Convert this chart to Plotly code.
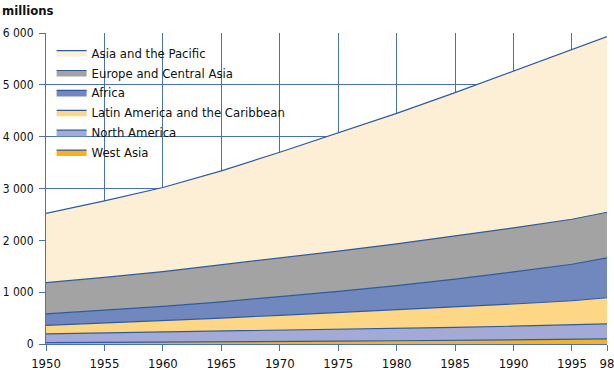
import plotly.graph_objects as go

years = [1950, 1955, 1960, 1965, 1970, 1975, 1980, 1985, 1990, 1995, 1998]

west_asia = [25, 29, 34, 40, 47, 55, 63, 72, 82, 91, 97]
north_america = [172, 184, 196, 208, 220, 230, 240, 250, 262, 275, 290]
latin_america = [163, 190, 220, 253, 287, 322, 355, 390, 428, 468, 505]
africa = [221, 246, 276, 313, 358, 410, 470, 540, 620, 705, 770]
europe_central_asia = [605, 635, 672, 712, 748, 775, 805, 830, 850, 868, 880]
asia_pacific = [1334, 1476, 1622, 1814, 2040, 2278, 2517, 2768, 3028, 3273, 3388]

series_names = ["West Asia", "North America", "Latin America and the Caribbean",
                "Africa", "Europe and Central Asia", "Asia and the Pacific"]
series_values = [west_asia, north_america, latin_america, africa,
                 europe_central_asia, asia_pacific]
series_colors = ["#f5b120", "#a4aad6", "#fdd786", "#7088be", "#a3a3a3", "#fdefd6"]

x_tickvals = [1950, 1955, 1960, 1965, 1970, 1975, 1980, 1985, 1990, 1995, 1998]
x_ticktext = ["1950", "1955", "1960", "1965", "1970", "1975", "1980", "1985",
              "1990", "1995", "98"]
y_tickvals = [0, 1000, 2000, 3000, 4000, 5000, 6000]
y_ticktext = ["0", "1 000", "2 000", "3 000", "4 000", "5 000", "6 000"]

LINE = "#2f5b9c"
GRID = "#4a70b0"
FONT = "Liberation Sans Narrow, DejaVu Sans Condensed, Arial Narrow, sans-serif"

fig = go.Figure()
for name, vals, col in zip(series_names, series_values, series_colors):
    fig.add_trace(go.Scatter(
        x=years, y=vals, name=name, mode="lines", stackgroup="one",
        line=dict(color=LINE, width=1.2), fillcolor=col,
    ))

fig.update_layout(
    width=614, height=370,
    margin=dict(l=46, r=7, t=33, b=26, autoexpand=False),
    paper_bgcolor="white", plot_bgcolor="white",
    font=dict(family=FONT, size=13, color="#111111"),
    showlegend=True,
    legend=dict(traceorder="reversed", x=0.01, y=0.985, xanchor="left", yanchor="top",
                bgcolor="rgba(0,0,0,0)", font=dict(size=13), tracegroupgap=0),
    xaxis=dict(range=[1950, 1998], tickvals=x_tickvals, ticktext=x_ticktext,
               automargin=False, ticklabeloverflow="allow",
               showgrid=True, gridcolor=GRID, gridwidth=1,
               ticks="outside", ticklen=6, tickcolor=GRID, ticklabelstandoff=1,
               showline=True, linecolor=GRID, linewidth=1, zeroline=False),
    yaxis=dict(range=[0, 6000], tickvals=y_tickvals, ticktext=y_ticktext,
               automargin=False, ticklabeloverflow="allow",
               showgrid=True, gridcolor=GRID, gridwidth=1,
               ticks="outside", ticklen=6, tickcolor=GRID,
               ticklabelstandoff=3, tickfont=dict(size=12),
               showline=True, linecolor=GRID, linewidth=1, zeroline=False),
    annotations=[dict(text="<b>millions</b>", xref="paper", yref="paper",
                      x=0, y=1, xshift=-46, yshift=32, xanchor="left", yanchor="top",
                      showarrow=False, font=dict(size=13))],
)

fig.write_html("out.html", config={"displayModeBar": False},
               post_script="document.body.style.margin='0';")
